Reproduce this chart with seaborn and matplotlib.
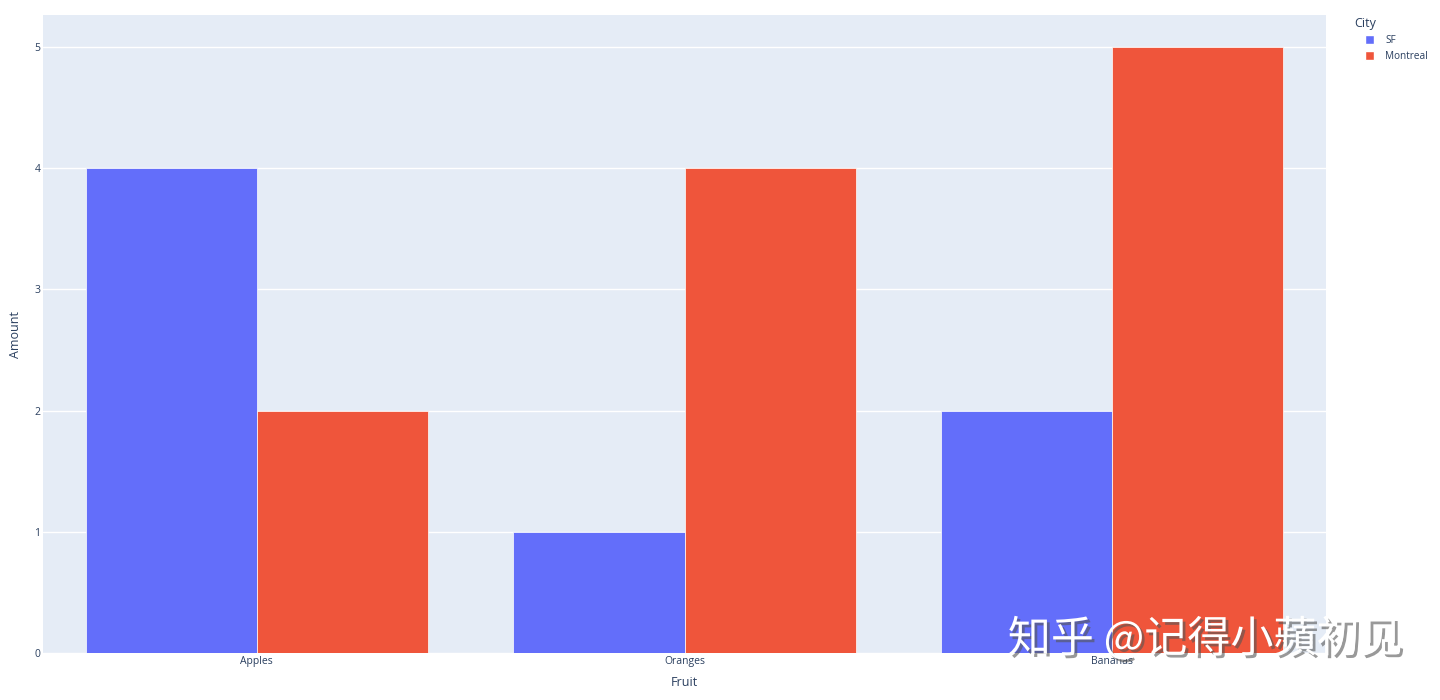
import matplotlib
matplotlib.use("Agg")
import matplotlib.pyplot as plt
import matplotlib.patheffects as pe
from matplotlib.patches import Patch
import seaborn as sns
import pandas as pd

fruits = ["Apples", "Oranges", "Bananas"]
cities = ["SF", "Montreal"]
sf_amount = [4, 1, 2]
montreal_amount = [2, 4, 5]
y_ticks = [0, 1, 2, 3, 4, 5]

df = pd.DataFrame({
    "Fruit": fruits * 2,
    "Amount": sf_amount + montreal_amount,
    "City": ["SF"] * len(fruits) + ["Montreal"] * len(fruits),
})

sns.set_theme(style="white")
plt.rcParams['font.family'] = ['Open Sans', 'DejaVu Sans']
text_color = "#2a3f5f"
palette = {"SF": "#636efa", "Montreal": "#EF553B"}

W, H = 1440, 700
fig = plt.figure(figsize=(W / 100, H / 100), dpi=100)
ax = fig.add_axes([43 / W, (H - 653) / H, (1326 - 43) / W, (653 - 15) / H])
ax.set_facecolor("#E5ECF6")

sns.barplot(data=df, x="Fruit", y="Amount", hue="City", order=fruits,
            hue_order=cities, palette=palette, width=0.8, ax=ax,
            edgecolor="white", linewidth=0.5, saturation=1, legend=False,
            zorder=3)

ax.set_xlim(-0.5, 2.5)
ax.set_ylim(0, 5.263)
ax.set_yticks(y_ticks)
ax.set_yticklabels([str(t) for t in y_ticks])
ax.grid(axis="y", color="white", linewidth=1, zorder=0)
ax.set_axisbelow(True)
for s in ax.spines.values():
    s.set_visible(False)
ax.tick_params(axis="both", length=0, labelsize=7.5, colors=text_color, pad=2)
ax.set_xlabel("Fruit", fontsize=9, color=text_color, labelpad=7)
ax.set_ylabel("Amount", fontsize=9, color=text_color, labelpad=9)

handles = [Patch(facecolor=palette[c], edgecolor="white", label=c) for c in cities]
fig.text(1354 / W, 1 - 24 / H, "City", ha="left", va="center", fontsize=9,
         color=text_color)
leg = fig.legend(handles=handles, loc="upper left",
                 bbox_to_anchor=(1361 / W, 1 - 31 / H), frameon=False,
                 fontsize=7.2, handlelength=0.9,
                 handleheight=0.9, handletextpad=1.1, labelspacing=0.5,
                 borderaxespad=0)
for t in leg.get_texts():
    t.set_color(text_color)

fig.text(1205 / W, 1 - 640 / H, "知乎 @记得小蘋初见", ha="center", va="center",
         fontsize=31, color="white", family=["Noto Sans CJK SC", "DejaVu Sans"],
         path_effects=[pe.withSimplePatchShadow(offset=(2, -2), shadow_rgbFace="#555555", alpha=0.6)])

fig.savefig("out.png", dpi=100, facecolor="white")
